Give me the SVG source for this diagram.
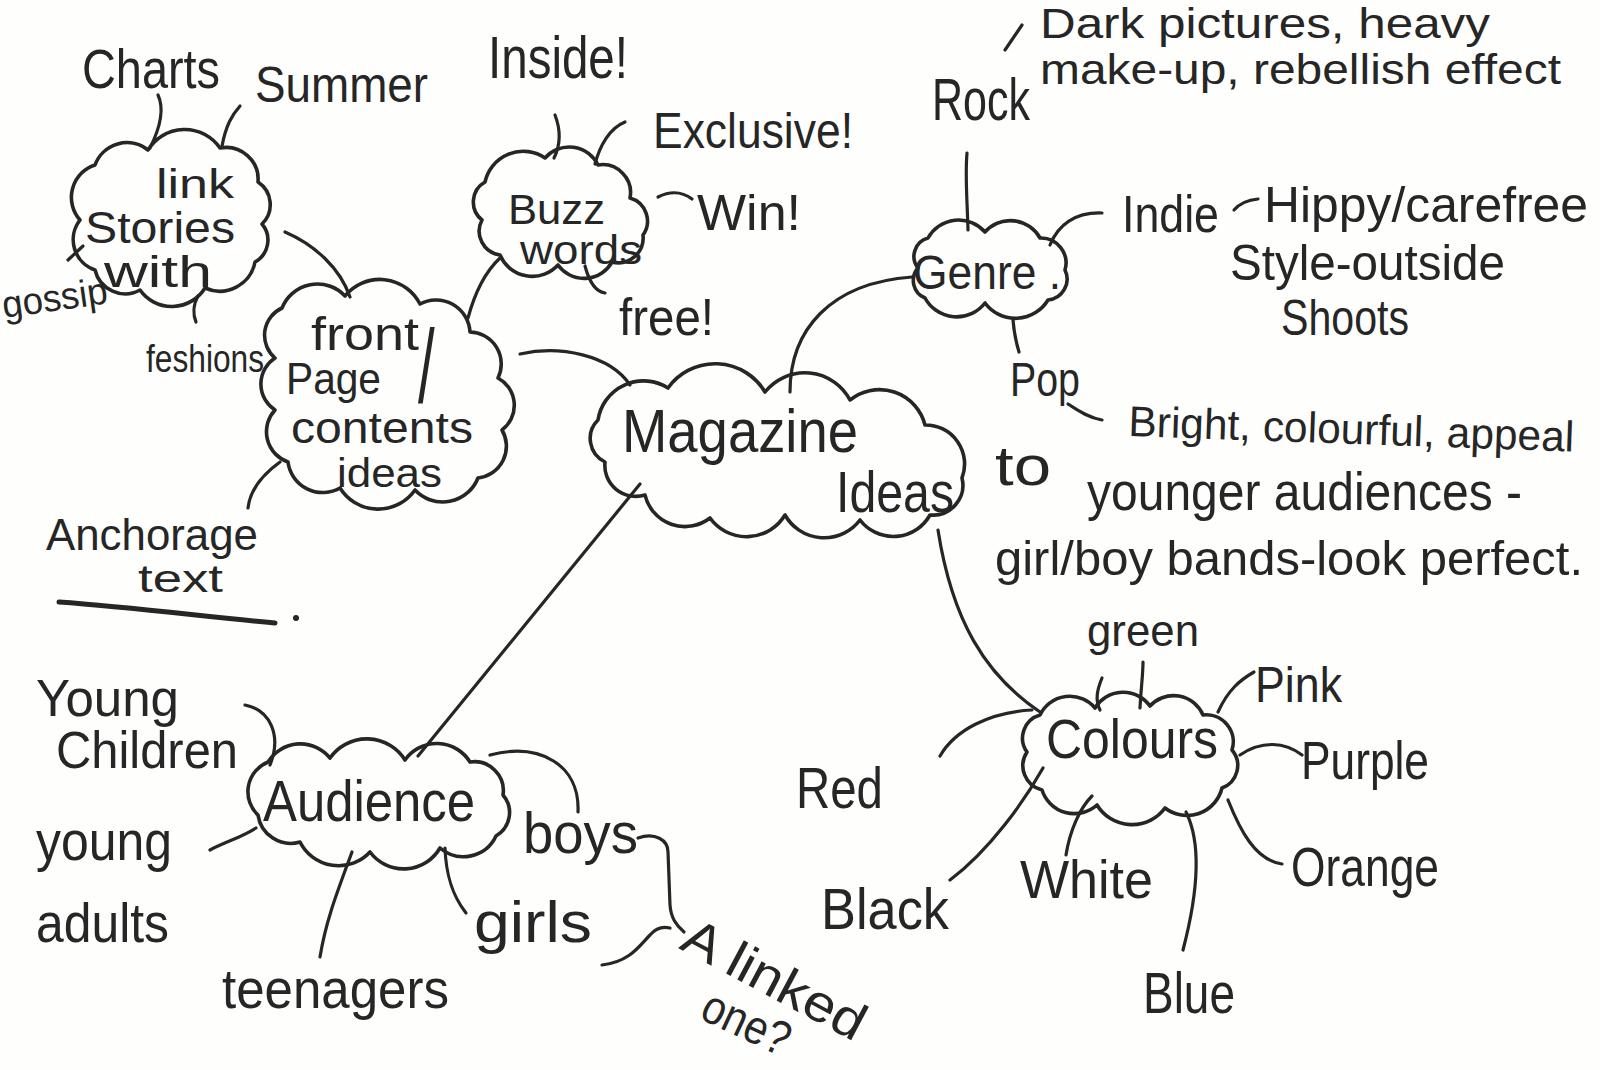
<svg xmlns="http://www.w3.org/2000/svg" width="1600" height="1070" viewBox="0 0 1600 1070">
<style>
.cl{fill:none;stroke:#262626;stroke-width:3.6;stroke-linecap:round;stroke-linejoin:round}
.ln{fill:none;stroke:#262626;stroke-width:3.2;stroke-linecap:round;stroke-linejoin:round}
text{font-family:"Liberation Sans",Arial,sans-serif;fill:#262626}
</style>
<rect width="1600" height="1070" fill="#fefefd"/>
<g id="connectors">
<path class="ln" d="M158 95 C165 110,160 128,150 148"/>
<path class="ln" d="M240 106 C232 115,226 125,222 146"/>
<path class="ln" d="M83 246 L68 260"/>
<path class="ln" d="M198 296 C193 305,193 315,196 322"/>
<path class="ln" d="M285 232 C315 245,340 268,350 297"/>
<path class="ln" d="M248 508 C250 490,262 475,280 462"/>
<path class="ln" d="M468 318 C475 292,485 272,500 258"/>
<path class="ln" d="M520 354 C560 345,610 355,630 385"/>
<path class="ln" d="M555 115 C560 128,562 142,554 158"/>
<path class="ln" d="M625 122 C610 128,600 145,595 164"/>
<path class="ln" d="M692 199 C680 190,668 192,658 197"/>
<path class="ln" d="M585 266 C590 285,598 292,605 293"/>
<path class="ln" d="M790 392 C790 330,830 283,912 277"/>
<path class="ln" d="M967 153 C965 175,967 195,968 230"/>
<path class="ln" d="M1005 50 L1022 25"/>
<path class="ln" d="M1050 245 C1058 225,1075 212,1102 213"/>
<path class="ln" d="M1234 210 C1240 203,1248 200,1258 199"/>
<path class="ln" d="M1013 320 C1014 332,1016 342,1019 352"/>
<path class="ln" d="M1068 404 C1080 412,1090 418,1102 420"/>
<path class="ln" d="M938 530 C952 620,985 675,1040 712"/>
<path class="ln" d="M640 484 L418 756"/>
<path class="ln" d="M245 705 C270 710,282 735,270 765"/>
<path class="ln" d="M210 850 C225 842,240 838,256 828"/>
<path class="ln" d="M352 852 C338 890,326 920,320 957"/>
<path class="ln" d="M445 848 C446 875,452 895,466 913"/>
<path class="ln" d="M490 755 C540 742,580 765,578 812"/>
<path class="ln" d="M638 838 C655 832,668 840,668 852 L670 905 C671 918,676 925,684 932"/>
<path class="ln" d="M602 965 C630 962,640 945,650 935 C656 928,662 926,670 928"/>
<path class="ln" d="M940 756 C955 730,990 712,1032 710"/>
<path class="ln" d="M950 880 C990 850,1025 800,1043 768"/>
<path class="ln" d="M1066 855 C1070 830,1080 808,1092 796"/>
<path class="ln" d="M1183 950 C1200 885,1200 840,1186 812"/>
<path class="ln" d="M1282 864 C1255 860,1240 830,1228 800"/>
<path class="ln" d="M1240 755 C1262 740,1285 742,1302 755"/>
<path class="ln" d="M1218 712 C1228 690,1240 680,1254 672"/>
<path class="ln" d="M1102 678 C1097 690,1095 700,1100 710"/>
<path class="ln" d="M1143 662 C1143 675,1141 688,1140 708"/>
</g>
<g id="magazine-ideas">
<path class="cl" d="M598 420 A46 46 0 0 1 668 388 A58 58 0 0 1 765 392 A51 51 0 0 1 850 400 A47 47 0 0 1 925 425 A39 39 0 0 1 962 478 A30 30 0 0 1 930 515 A42 42 0 0 1 860 520 A45 45 0 0 1 785 515 A45 45 0 0 1 710 518 A41 41 0 0 1 645 495 A31 31 0 0 1 605 462 A26 26 0 0 1 598 420 Z"/>
<text x="622" y="452" font-size="62" textLength="236" lengthAdjust="spacingAndGlyphs">Magazine</text>
<text x="836" y="512" font-size="58" textLength="118" lengthAdjust="spacingAndGlyphs">Ideas</text>
</g>
<g id="link-stories">
<path class="cl" d="M95 165 A34 34 0 0 1 148 150 A43 43 0 0 1 220 148 A32 32 0 0 1 258 182 A27 27 0 0 1 262 224 A25 25 0 0 1 255 262 A36 36 0 0 1 205 288 A39 39 0 0 1 140 290 A31 31 0 0 1 95 270 A32 32 0 0 1 80 220 A34 34 0 0 1 95 165 Z"/>
<text x="156" y="198" font-size="40" textLength="78" lengthAdjust="spacingAndGlyphs">link</text>
<text x="85" y="243" font-size="44" textLength="150" lengthAdjust="spacingAndGlyphs">Stories</text>
<text x="104" y="287" font-size="44" textLength="108" lengthAdjust="spacingAndGlyphs">with</text>
</g>
<g id="front-page">
<path class="cl" d="M282 308 A38 38 0 0 1 345 296 A45 45 0 0 1 420 304 A34 34 0 0 1 470 332 A32 32 0 0 1 498 378 A31 31 0 0 1 502 430 A32 32 0 0 1 478 478 A38 38 0 0 1 415 490 A45 45 0 0 1 340 488 A35 35 0 0 1 288 462 A32 32 0 0 1 275 410 A31 31 0 0 1 275 358 A30 30 0 0 1 282 308 Z"/>
<text x="311" y="350" font-size="46" textLength="108" lengthAdjust="spacingAndGlyphs">front</text>
<text x="0" y="0" font-size="80" transform="translate(418 402) scale(0.75 1.3)">/</text>
<text x="286" y="394" font-size="44" textLength="95" lengthAdjust="spacingAndGlyphs">Page</text>
<text x="291" y="443" font-size="44" textLength="182" lengthAdjust="spacingAndGlyphs">contents</text>
<text x="337" y="487" font-size="40" textLength="105" lengthAdjust="spacingAndGlyphs">ideas</text>
</g>
<g id="buzz-words">
<path class="cl" d="M485 182 A39 39 0 0 1 545 158 A32 32 0 0 1 598 165 A28 28 0 0 1 630 198 A24 24 0 0 1 643 235 A25 25 0 0 1 612 262 A32 32 0 0 1 558 265 A35 35 0 0 1 500 255 A24 24 0 0 1 482 220 A23 23 0 0 1 485 182 Z"/>
<text x="508" y="224" font-size="42" textLength="97" lengthAdjust="spacingAndGlyphs">Buzz</text>
<text x="520" y="264" font-size="40" textLength="122" lengthAdjust="spacingAndGlyphs">words</text>
</g>
<g id="genre">
<path class="cl" d="M928 238 A35 35 0 0 1 985 232 A34 34 0 0 1 1040 238 A25 25 0 0 1 1065 270 A21 21 0 0 1 1048 300 A38 38 0 0 1 985 303 A36 36 0 0 1 925 298 A19 19 0 0 1 918 268 A19 19 0 0 1 928 238 Z"/>
<text x="913" y="289" font-size="48" textLength="148" lengthAdjust="spacingAndGlyphs">Genre .</text>
</g>
<g id="audience">
<path class="cl" d="M268 762 A38 38 0 0 1 330 758 A45 45 0 0 1 405 760 A39 39 0 0 1 470 762 A29 29 0 0 1 503 795 A27 27 0 0 1 496 836 A36 36 0 0 1 440 848 A42 42 0 0 1 370 852 A43 43 0 0 1 300 842 A33 33 0 0 1 258 815 A32 32 0 0 1 268 762 Z"/>
<text x="263" y="821" font-size="58" textLength="212" lengthAdjust="spacingAndGlyphs">Audience</text>
</g>
<g id="colours">
<path class="cl" d="M1040 715 A33 33 0 0 1 1095 708 A33 33 0 0 1 1150 706 A32 32 0 0 1 1203 715 A27 27 0 0 1 1232 750 A24 24 0 0 1 1222 788 A36 36 0 0 1 1165 808 A41 41 0 0 1 1097 805 A34 34 0 0 1 1042 790 A25 25 0 0 1 1027 752 A24 24 0 0 1 1040 715 Z"/>
<text x="1046" y="758" font-size="56" textLength="172" lengthAdjust="spacingAndGlyphs">Colours</text>
</g>
<g id="labels">
<text x="82" y="88" font-size="56" textLength="138" lengthAdjust="spacingAndGlyphs">Charts</text>
<text x="255" y="102" font-size="50" textLength="173" lengthAdjust="spacingAndGlyphs">Summer</text>
<text x="488" y="78" font-size="60" textLength="140" lengthAdjust="spacingAndGlyphs">Inside!</text>
<text x="653" y="148" font-size="50" textLength="200" lengthAdjust="spacingAndGlyphs">Exclusive!</text>
<text x="697" y="230" font-size="50" textLength="104" lengthAdjust="spacingAndGlyphs">Win!</text>
<text x="619" y="335" font-size="52" textLength="95" lengthAdjust="spacingAndGlyphs">free!</text>
<text x="4" y="318" font-size="38" textLength="106" lengthAdjust="spacingAndGlyphs" transform="rotate(-8 4 318)">gossip</text>
<text x="146" y="372" font-size="38" textLength="118" lengthAdjust="spacingAndGlyphs">feshions</text>
<text x="46" y="550" font-size="44" textLength="212" lengthAdjust="spacingAndGlyphs">Anchorage</text>
<text x="138" y="592" font-size="38" textLength="85" lengthAdjust="spacingAndGlyphs">text</text>
<path d="M59 602 C130 607,200 616,275 623" fill="none" stroke="#262626" stroke-width="5" stroke-linecap="round"/>
<circle cx="296" cy="618" r="3" fill="#262626"/>
<text x="932" y="120" font-size="60" textLength="98" lengthAdjust="spacingAndGlyphs">Rock</text>
<text x="1040" y="38" font-size="42" textLength="450" lengthAdjust="spacingAndGlyphs">Dark pictures, heavy</text>
<text x="1040" y="84" font-size="42" textLength="521" lengthAdjust="spacingAndGlyphs">make-up, rebellish effect</text>
<text x="1122" y="232" font-size="52" textLength="97" lengthAdjust="spacingAndGlyphs">Indie</text>
<text x="1264" y="222" font-size="50" textLength="324" lengthAdjust="spacingAndGlyphs">Hippy/carefree</text>
<text x="1230" y="280" font-size="50" textLength="275" lengthAdjust="spacingAndGlyphs">Style-outside</text>
<text x="1281" y="335" font-size="50" textLength="128" lengthAdjust="spacingAndGlyphs">Shoots</text>
<text x="1010" y="396" font-size="48" textLength="70" lengthAdjust="spacingAndGlyphs">Pop</text>
<text x="1128" y="436" font-size="43" textLength="446" lengthAdjust="spacingAndGlyphs" transform="rotate(2 1128 436)">Bright, colourful, appeal</text>
<text x="995" y="485" font-size="56" textLength="56" lengthAdjust="spacingAndGlyphs">to</text>
<text x="1087" y="510" font-size="54" textLength="435" lengthAdjust="spacingAndGlyphs">younger audiences -</text>
<text x="995" y="575" font-size="49" textLength="588" lengthAdjust="spacingAndGlyphs">girl/boy bands-look perfect.</text>
<text x="36" y="716" font-size="52" textLength="143" lengthAdjust="spacingAndGlyphs">Young</text>
<text x="56" y="768" font-size="52" textLength="182" lengthAdjust="spacingAndGlyphs">Children</text>
<text x="36" y="860" font-size="56" textLength="136" lengthAdjust="spacingAndGlyphs">young</text>
<text x="36" y="942" font-size="56" textLength="133" lengthAdjust="spacingAndGlyphs">adults</text>
<text x="523" y="853" font-size="58" textLength="115" lengthAdjust="spacingAndGlyphs">boys</text>
<text x="474" y="942" font-size="58" textLength="118" lengthAdjust="spacingAndGlyphs">girls</text>
<text x="222" y="1008" font-size="56" textLength="227" lengthAdjust="spacingAndGlyphs">teenagers</text>
<text x="678" y="948" font-size="52" textLength="200" lengthAdjust="spacingAndGlyphs" transform="rotate(28 678 948)">A linked</text>
<text x="698" y="1018" font-size="48" textLength="92" lengthAdjust="spacingAndGlyphs" transform="rotate(25 698 1018)">one?</text>
<text x="796" y="808" font-size="58" textLength="87" lengthAdjust="spacingAndGlyphs">Red</text>
<text x="821" y="929" font-size="58" textLength="128" lengthAdjust="spacingAndGlyphs">Black</text>
<text x="1020" y="898" font-size="54" textLength="133" lengthAdjust="spacingAndGlyphs">White</text>
<text x="1143" y="1013" font-size="58" textLength="92" lengthAdjust="spacingAndGlyphs">Blue</text>
<text x="1291" y="886" font-size="56" textLength="148" lengthAdjust="spacingAndGlyphs">Orange</text>
<text x="1301" y="779" font-size="54" textLength="128" lengthAdjust="spacingAndGlyphs">Purple</text>
<text x="1255" y="702" font-size="50" textLength="87" lengthAdjust="spacingAndGlyphs">Pink</text>
<text x="1087" y="646" font-size="44" textLength="112" lengthAdjust="spacingAndGlyphs">green</text>
</g>
</svg>
